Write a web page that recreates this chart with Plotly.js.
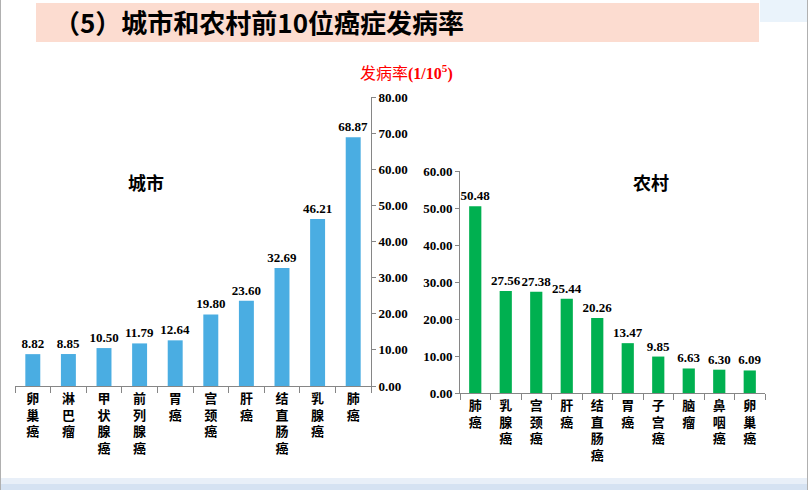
<!DOCTYPE html>
<html>
<head>
<meta charset="utf-8">
<script src="https://cdn.plot.ly/plotly-3.0.1.min.js"></script>
<style>html,body{margin:0;padding:0;background:#fff;}#chart{width:808px;height:490px;}</style>
</head>
<body>
<div id="chart"></div>
<script>
// Urban (城市) top-10 cancer incidence
const urbanCats = ['卵巢癌', '淋巴瘤', '甲状腺癌', '前列腺癌', '胃癌', '宫颈癌', '肝癌', '结直肠癌', '乳腺癌', '肺癌'];
const urbanVals = [8.82, 8.85, 10.50, 11.79, 12.64, 19.80, 23.60, 32.69, 46.21, 68.87];
// Rural (农村) top-10 cancer incidence
const ruralCats = ['肺癌', '乳腺癌', '宫颈癌', '肝癌', '结直肠癌', '胃癌', '子宫癌', '脑瘤', '鼻咽癌', '卵巢癌'];
const ruralVals = [50.48, 27.56, 27.38, 25.44, 20.26, 13.47, 9.85, 6.63, 6.30, 6.09];

const urbanTicks = [0, 10, 20, 30, 40, 50, 60, 70, 80];
const ruralTicks = [0, 10, 20, 30, 40, 50, 60];

const W = 808, H = 490;
const px = x => x / W;
const py = y => 1 - y / H;
const vert = s => s.split('').join('<br>');

const serif = 'Liberation Serif, Times New Roman, serif';
const cjk = 'Noto Sans CJK SC, sans-serif';
const axisCol = '#868686';

const traces = [
  {
    type: 'bar', x: urbanCats, y: urbanVals, xaxis: 'x', yaxis: 'y',
    marker: {color: '#4AADE2'}, width: 0.42,
    text: urbanVals.map(v => '<b>' + v.toFixed(2) + '</b>'),
    textposition: 'outside', cliponaxis: false, constraintext: 'none',
    textfont: {family: serif, size: 13, color: '#000'},
    hoverinfo: 'x+y'
  },
  {
    type: 'bar', x: ruralCats, y: ruralVals, xaxis: 'x2', yaxis: 'y2',
    marker: {color: '#00B050'}, width: 0.4,
    text: ruralVals.map(v => '<b>' + v.toFixed(2) + '</b>'),
    textposition: 'outside', cliponaxis: false, constraintext: 'none',
    textfont: {family: serif, size: 13, color: '#000'},
    hoverinfo: 'x+y'
  }
];

const xCommon = {
  type: 'category', showgrid: false, zeroline: false,
  showline: true, linecolor: axisCol, linewidth: 1,
  ticks: 'outside', tickson: 'boundaries', ticklen: 6, tickcolor: axisCol,
  tickangle: 0, tickfont: {family: cjk, size: 13, color: '#000', weight: 'bold'}
};
const yCommon = {
  showgrid: false, zeroline: false, showline: true, linecolor: axisCol, linewidth: 1,
  ticks: 'outside', ticklen: 4, tickcolor: axisCol,
  tickformat: '.2f',
  tickfont: {family: serif, size: 13, color: '#000', weight: 'bold'}
};

const layout = {
  width: W, height: H,
  margin: {l: 0, r: 0, t: 0, b: 0},
  paper_bgcolor: '#fff', plot_bgcolor: 'rgba(0,0,0,0)',
  showlegend: false, bargap: 0.58,
  uniformtext: {mode: false},
  xaxis: Object.assign({}, xCommon, {
    domain: [px(15), px(371)], anchor: 'y',
    tickvals: urbanCats, ticktext: urbanCats.map(vert)
  }),
  yaxis: Object.assign({}, yCommon, {
    domain: [py(386), py(97)], anchor: 'x', side: 'right',
    range: [0, 80], tickvals: urbanTicks
  }),
  xaxis2: Object.assign({}, xCommon, {
    domain: [px(460), px(765)], anchor: 'y2',
    tickvals: ruralCats, ticktext: ruralCats.map(vert)
  }),
  yaxis2: Object.assign({}, yCommon, {
    domain: [py(393), py(171)], anchor: 'x2', side: 'left',
    range: [0, 60], tickvals: ruralTicks
  }),
  shapes: [
    {type: 'rect', xref: 'paper', yref: 'paper', x0: px(36), x1: px(759), y0: py(42), y1: py(3),
     fillcolor: '#FCDCD0', line: {width: 0}, layer: 'below'},
    {type: 'rect', xref: 'paper', yref: 'paper', x0: 0, x1: 1, y0: 0, y1: py(478),
     fillcolor: 'rgba(190,210,235,0.35)', line: {width: 0}, layer: 'below'},
    {type: 'rect', xref: 'paper', yref: 'paper', x0: 0, x1: 1, y0: 0, y1: py(484),
     fillcolor: 'rgba(190,210,235,0.45)', line: {width: 0}, layer: 'below'},
    {type: 'rect', xref: 'paper', yref: 'paper', x0: px(760), x1: 1, y0: py(22), y1: 1,
     fillcolor: 'rgba(220,235,248,0.6)', line: {width: 0}, layer: 'below'},
    {type: 'line', xref: 'paper', yref: 'paper', x0: px(0.5), x1: px(0.5), y0: 0, y1: 1,
     line: {color: '#B0B0B0', width: 1}},
    {type: 'line', xref: 'paper', yref: 'paper', x0: px(807.5), x1: px(807.5), y0: 0, y1: 1,
     line: {color: '#B0B0B0', width: 1}}
  ],
  annotations: [
    {text: '<b>（5）城市和农村前10位癌症发病率</b>', xref: 'paper', yref: 'paper',
     x: px(52), y: py(22), xanchor: 'left', yanchor: 'middle', showarrow: false,
     font: {family: cjk, size: 26, color: '#000'}},
    {text: '<b>城市</b>', xref: 'paper', yref: 'paper', x: px(146), y: py(182),
     xanchor: 'center', yanchor: 'middle', showarrow: false,
     font: {family: cjk, size: 18, color: '#000'}},
    {text: '<b>农村</b>', xref: 'paper', yref: 'paper', x: px(651), y: py(182),
     xanchor: 'center', yanchor: 'middle', showarrow: false,
     font: {family: cjk, size: 18, color: '#000'}},
    {text: '发病率<b>(1/10<sup>5</sup>)</b>', xref: 'paper', yref: 'paper', x: px(406), y: py(72),
     xanchor: 'center', yanchor: 'middle', showarrow: false,
     font: {family: serif + ', Noto Sans CJK SC', size: 16, color: '#FF0000'}}
  ]
};

Plotly.newPlot('chart', traces, layout, {displayModeBar: false, staticPlot: true});
</script>
</body>
</html>
